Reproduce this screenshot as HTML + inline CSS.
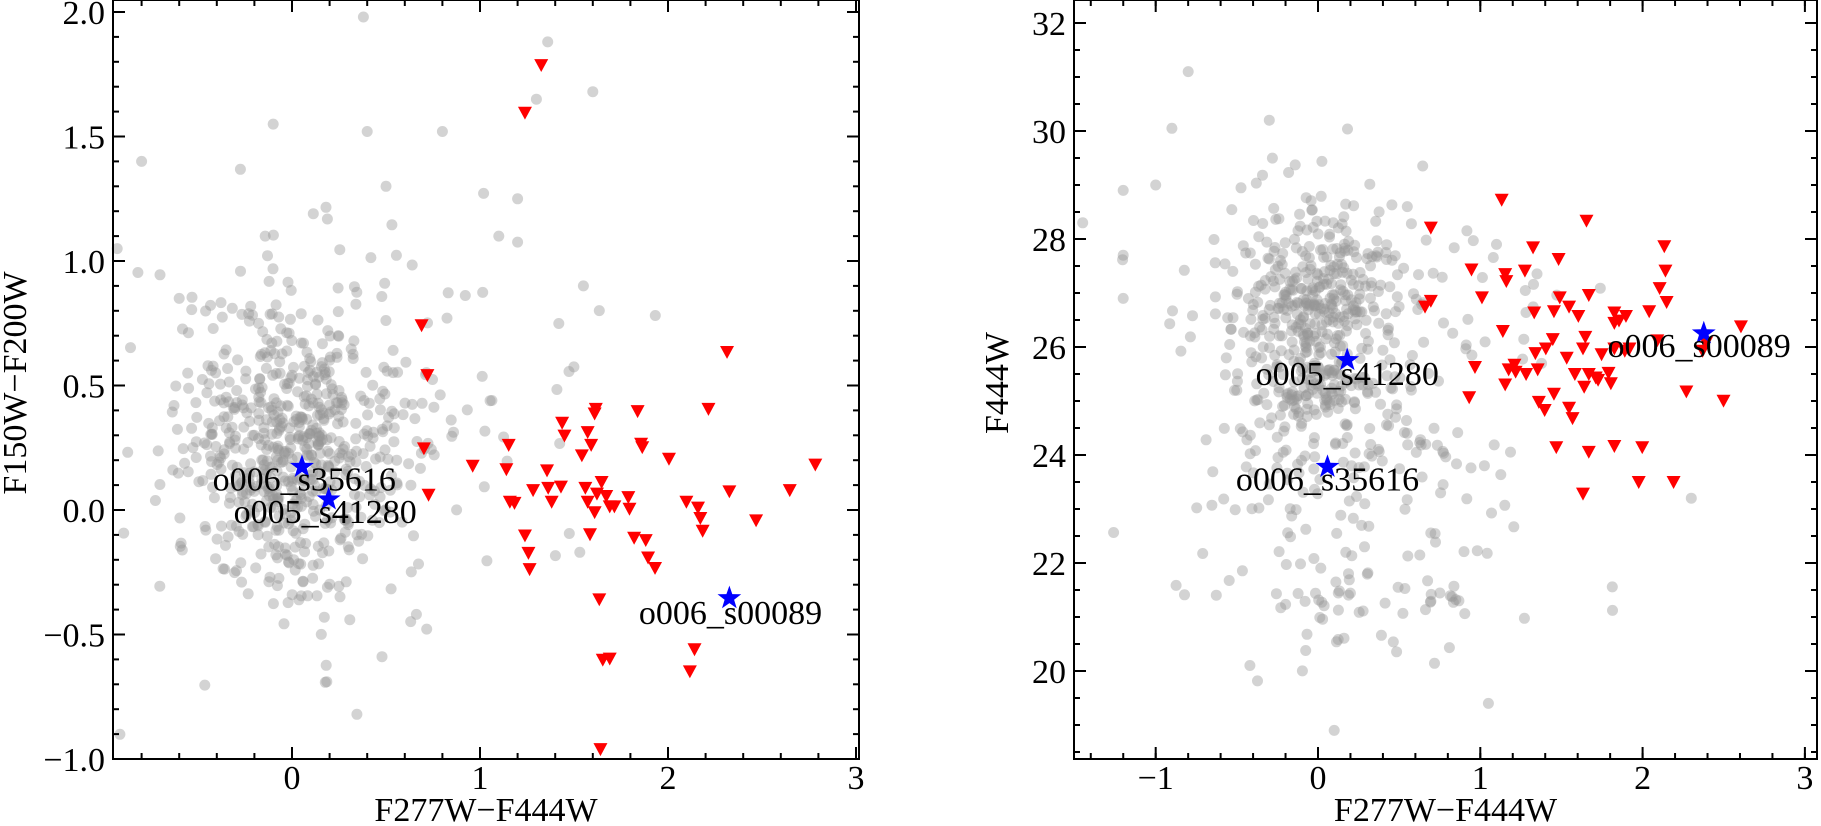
<!DOCTYPE html>
<html><head><meta charset="utf-8">
<style>
html,body{margin:0;padding:0;background:#fff;}
svg{display:block;font-family:"Liberation Serif","DejaVu Serif",serif;}
</style></head>
<body>
<svg id="s" width="1821" height="826" viewBox="0 0 1821 826" xmlns="http://www.w3.org/2000/svg">
<rect width="1821" height="826" fill="#fff"/>
<g id="gray"></g><g id="red"></g><g id="blue"></g><g id="ax"></g>
</svg>
<script>
var NS="http://www.w3.org/2000/svg";
function el(p,t,a,txt){var e=document.createElementNS(NS,t);for(var k in a)e.setAttribute(k,a[k]);if(txt!==undefined)e.textContent=txt;document.getElementById(p).appendChild(e);return e;}
var seed=12345;function rnd(){seed|=0;seed=seed+0x6D2B79F5|0;var t=Math.imul(seed^seed>>>15,1|seed);t=t+Math.imul(t^t>>>7,61|t)^t;return((t^t>>>14)>>>0)/4294967296;}
function gn(){return Math.sqrt(-2*Math.log(rnd()+1e-9))*Math.cos(2*Math.PI*rnd());}
var L={x0:113,x1:859,y0:0,y1:759,px:function(x){return 292+188*x},py:function(y){return 510-249*y}};
var R={x0:1074,x1:1817,y0:0,y1:759,px:function(x){return 1318+162.3*x},py:function(y){return 671-54*(y-20)}};
function dot(P,x,y){var X=P.px(x),Y=P.py(y);if(X<P.x0+4||X>P.x1-4||Y<P.y0+4||Y>P.y1-4)return;el("gray","circle",{cx:X.toFixed(1),cy:Y.toFixed(1),r:5.5,fill:"rgba(150,150,150,0.42)"});}
for(var i=0;i<720;i++){
  var c,r=rnd();
  if(r<0.6){c=0.0+gn()*0.26;}else if(r<0.85){c=0.1+gn()*0.45;}else{c=0.3+gn()*0.6;}
  var col=0.22+gn()*0.28+(r>0.85?0.35*gn():0)+ (c>0.4?0.15*(c-0.4)*gn()*2:0);
  if(rnd()<0.12) col+=0.5*Math.abs(gn());
  var mag=26.5+gn()*1.15; if(rnd()<0.22) mag=21+rnd()*4.5; if(rnd()<0.05) mag=19.8+rnd()*2;
  var cr=c*0.9; if(mag<24.5) cr=0.25+gn()*0.55;
  dot(L,c,col);
  dot(R,cr,mag);
}
var extra=[[0.38,1.98],[1.6,1.68],[1.36,1.88],[1.3,1.65],[-0.1,1.55],[0.4,1.52],[0.8,1.52],[-0.8,1.4],[1.2,1.25],[1.1,1.1],[0.5,1.3],[-0.93,1.05],[-0.6,0.85],[1.55,0.9]];
extra.forEach(function(p){dot(L,p[0],p[1]);});
var extraR=[[-0.8,31.1],[-0.3,30.2],[-1.2,28.9],[-1.45,28.3],[-1.0,29.0],[-0.9,30.05],[-1.2,26.9],[0.55,28.6],[1.1,27.9],[2.3,23.2],[1.05,19.4],[0.1,18.9],[-0.5,25.2],[-1.2,27.7]];
extraR.forEach(function(p){dot(R,p[0],p[1]);});
var s=1.1614;
function tri(xp,yp){var X=xp*s,Y=yp*s,h=7;el("red","polygon",{points:(X-h)+","+(Y-h*0.85)+" "+(X+h)+","+(Y-h*0.85)+" "+X+","+(Y+h*1.0),fill:"#f00"});}
[[466,56],[452,97],[363,280],[368,323],[365,386],[369,426],[407,401],[438,383],[443,433],[452,461],[456,490],[439,432],[471,405],[472,420],[475,432],[486,375],[483,419],[501,392],[506,372],[509,383],[512,356],[513,352],[504,420],[506,432],[508,460],[512,441],[518,415],[514,425],[522,427],[525,436],[529,436],[541,428],[542,438],[549,354],[552,382],[553,385],[546,463],[556,465],[564,489],[576,395],[591,432],[601,437],[603,446],[605,457],[610,352],[628,423],[626,303],[651,448],[680,422],[702,400],[516,516],[519,568],[525,567],[517,645],[558,480],[598,559],[594,578],[484,364],[455,476],[436,404],[459,422]].forEach(function(p){tri(p[0],p[1]);});
[[1293,172],[1232,196],[1366,190],[1320,213],[1267,232],[1296,236],[1313,233],[1342,223],[1433,212],[1434,233],[1429,248],[1297,242],[1276,256],[1343,256],[1368,254],[1321,269],[1338,268],[1351,264],[1390,269],[1400,272],[1420,268],[1435,260],[1390,278],[1294,285],[1337,292],[1359,272],[1394,276],[1427,293],[1469,295],[1403,300],[1363,300],[1349,308],[1322,304],[1324,318],[1304,314],[1305,320],[1270,316],[1296,331],[1356,322],[1368,322],[1374,325],[1385,321],[1387,330],[1325,346],[1330,353],[1338,339],[1351,351],[1364,333],[1376,327],[1484,345],[1452,337],[1232,259],[1227,264],[1299,318],[1314,322],[1265,342],[1354,360],[1340,385],[1390,384],[1414,385],[1368,389],[1411,415],[1363,425],[1441,415],[1499,281],[1466,302],[1399,302],[1379,305],[1331,300],[1365,290],[1390,300]].forEach(function(p){tri(p[0],p[1]);});
function star(xp,yp){var X=xp*s,Y=yp*s,pts=[];for(var k=0;k<10;k++){var rr=k%2?5:12.5,a=-Math.PI/2+k*Math.PI/5;pts.push((X+rr*Math.cos(a)).toFixed(1)+","+(Y+rr*Math.sin(a)).toFixed(1));}el("blue","polygon",{points:pts.join(" "),fill:"#0000ff"});}
function lab(xp,yp,t){el("blue","text",{x:xp*s,y:yp*s+11,"font-size":34,fill:"#000","text-anchor":"middle"},t);}
star(260,402);star(283,430);star(628,515);star(1160,310);star(1143,402);star(1467,287);
lab(262,413,"o006_s35616");lab(280,441,"o005_s41280");lab(629,528,"o006_s00089");
lab(1160,322,"o005_s41280");lab(1143,413,"o006_s35616");lab(1463,298,"o006_s00089");
function frame(P,xmaj,xmin,ymaj,ymin,xl,yl,ylx,labx){
  el("ax","rect",{x:P.x0,y:P.y0,width:P.x1-P.x0,height:P.y1-P.y0,fill:"none",stroke:"#000","stroke-width":2});
  function tk(x1,y1,x2,y2){el("ax","line",{x1:x1,y1:y1,x2:x2,y2:y2,stroke:"#000","stroke-width":2});}
  xmin.forEach(function(v){var X=P.px(v);if(X<=P.x0||X>=P.x1)return;tk(X,P.y1,X,P.y1-6);tk(X,P.y0,X,P.y0+6);});
  xmaj.forEach(function(v){var X=P.px(v);tk(X,P.y1,X,P.y1-12);tk(X,P.y0,X,P.y0+12);el("ax","text",{x:X,y:789,"font-size":34,"text-anchor":"middle"},v<0?"\u2212"+Math.abs(v):String(v));});
  ymin.forEach(function(v){var Y=P.py(v);if(Y<=P.y0||Y>=P.y1)return;tk(P.x0,Y,P.x0+6,Y);tk(P.x1,Y,P.x1-6,Y);});
  ymaj.forEach(function(v){var Y=P.py(v);tk(P.x0,Y,P.x0+12,Y);tk(P.x1,Y,P.x1-12,Y);var t=yl(v);el("ax","text",{x:P.x0-8,y:Y+12,"font-size":34,"text-anchor":"end"},t);});
  el("ax","text",{x:(P.x0+P.x1)/2,y:821,"font-size":34,"text-anchor":"middle"},xl);
  el("ax","text",{x:0,y:0,"font-size":34,"text-anchor":"middle",transform:"translate("+ylx+",383) rotate(-90)"},labx);
}
function rng(a,b,st){var r=[];for(var v=a;v<=b+1e-9;v+=st)r.push(Math.round(v*100)/100);return r;}
frame(L,[0,1,2,3],rng(-1,3,0.2),[-1,-0.5,0,0.5,1,1.5,2],rng(-1,2.1,0.1),"F277W\u2212F444W",function(v){var t=v.toFixed(1);return v<0?"\u2212"+t.slice(1):t;},26,"F150W\u2212F200W");
frame(R,[-1,0,1,2,3],rng(-1.6,3.2,0.2),[20,22,24,26,28,30,32],rng(18.5,32.5,0.5),"F277W\u2212F444W",function(v){return String(v);},1008,"F444W");
</script>
</body></html>
